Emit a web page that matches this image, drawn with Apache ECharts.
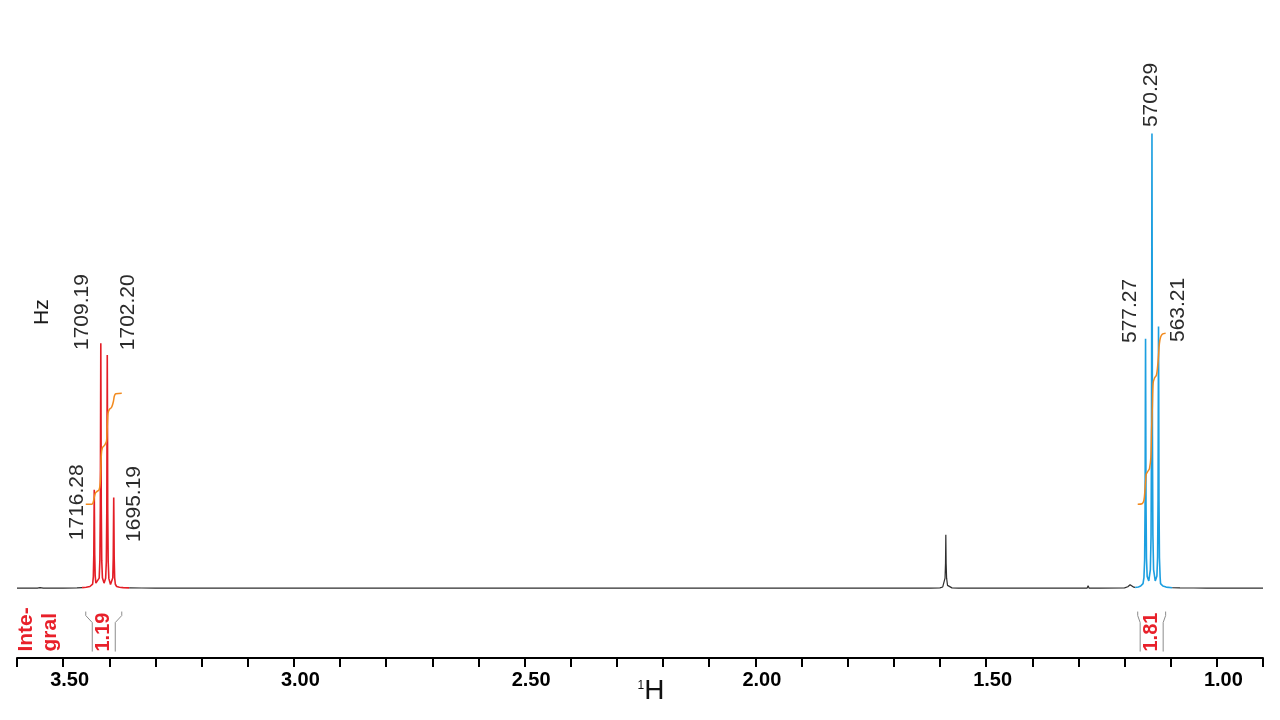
<!DOCTYPE html>
<html>
<head>
<meta charset="utf-8">
<script src="https://cdn.jsdelivr.net/npm/echarts@6/dist/echarts.min.js"></script>
<style>
html,body{margin:0;padding:0;background:#fff;}
#c{width:1280px;height:720px;}
</style>
</head>
<body>
<div id="c"></div>
<script>
// ---------- DATA ----------
const SF = 500; // spectrometer frequency, MHz (Hz -> ppm)
const tickLabels = ['3.50', '3.00', '2.50', '2.00', '1.50', '1.00'];

// spectrum trace [ppm, intensity]
const baselineLeft = [[3.600,0],[3.572,0],[3.568,0.25],[3.564,0],[3.556,0],[3.554,0.3],[3.550,0.1],[3.546,0.3],[3.543,0],[3.541,0],[3.539,0.2],[3.537,0],[3.500,0],[3.470,0.05],[3.459,0.1]];
const quartet = [[3.459,0.1],[3.450,0.18],[3.442,0.35],[3.4361,0.9],[3.4346,2.5],[3.4336,7.3],[3.4330,16.3],[3.4326,21.8],[3.4322,16.5],[3.4316,7.5],[3.4306,2.8],[3.4291,1.1],[3.4255,0.8],
  [3.4219,2.2],[3.4204,6.2],[3.4194,18.1],[3.4188,40.7],[3.4184,54.3],[3.4180,40.8],[3.4174,18.3],[3.4164,6.2],[3.4149,2.3],[3.4114,1.1],
  [3.4079,2.2],[3.4064,5.9],[3.4054,17.3],[3.4048,38.8],[3.4044,51.7],[3.4040,38.9],[3.4034,17.3],[3.4024,5.9],[3.4009,2.1],[3.3974,0.8],
  [3.3939,0.9],[3.3924,2.3],[3.3914,6.7],[3.3908,15.1],[3.3904,20.1],[3.3900,15.1],[3.3894,6.7],[3.3884,2.3],[3.3869,0.85],[3.384,0.35],[3.378,0.18],[3.370,0.1],[3.357,0.04]];
const baselineMid = [[3.357,0.04],[3.330,0.02],[3.300,0],[3.292,0],[3.290,0.25],[3.288,0],[3.281,0],[3.279,0.3],[3.277,0],[3.270,0],[3.268,0.25],[3.266,0],[3.264,0],[3.262,0.2],[3.260,0],[3.000,0],[2.500,0],[2.000,0],[1.620,0],
  [1.600,0.05],[1.594,0.25],[1.591,0.6],[1.589,2.2],[1.588,5.5],[1.5873,11.8],[1.5866,5.5],[1.5856,2.2],[1.5836,0.6],[1.580,0.25],[1.574,0.05],[1.560,0],
  [1.320,0],[1.314,0],[1.312,0.3],[1.310,0],[1.299,0],[1.297,0.35],[1.295,0],[1.281,0],[1.279,0.5],[1.277,0],[1.266,0],[1.264,0.3],[1.262,0],[1.253,0],[1.251,0.25],[1.249,0],
  [1.200,0.05],[1.193,0.3],[1.188,0.75],[1.184,0.4],[1.180,0.2],[1.177,0.15]];
const triplet = [[1.177,0.15],[1.170,0.25],[1.165,0.45],[1.160,1.0],
  [1.1580,2.3],[1.1565,6.2],[1.1555,18.4],[1.1549,41.5],[1.1545,55.3],[1.1541,41.5],[1.1535,18.6],[1.1525,6.6],[1.1510,2.6],[1.1475,1.6],
  [1.1441,4.1],[1.1426,11.4],[1.1416,33.6],[1.1410,75.6],[1.1406,100.8],[1.1402,75.8],[1.1396,33.9],[1.1386,11.8],[1.1371,4.1],[1.1335,1.6],
  [1.1299,2.7],[1.1284,6.9],[1.1274,19.6],[1.1268,43.7],[1.1264,58.0],[1.1260,43.8],[1.1254,19.4],[1.1244,6.7],[1.1229,2.4],
  [1.122,1.0],[1.117,0.45],[1.110,0.22],[1.097,0.08]];
const baselineRight = [[1.097,0.08],[1.080,0.04],[1.050,0.02],[1.022,0],[1.020,0.3],[1.018,0],[1.014,0],[1.012,0.25],[1.010,0],[0.980,0],[0.900,0]];

// integral curves
const integralLeft = [[3.451,18.6],[3.438,18.6],[3.435,19.0],[3.4326,20.1],[3.430,21.1],[3.427,21.4],[3.422,21.8],[3.4195,23.5],[3.4184,26.4],[3.4172,29.6],[3.415,31.1],[3.410,31.7],[3.406,32.6],[3.4044,35.8],[3.4028,38.8],[3.400,39.6],[3.395,40.1],[3.3915,41.2],[3.3904,41.8],[3.389,42.6],[3.386,43.1],[3.373,43.2]];
const integralRight = [[1.1715,18.6],[1.162,18.7],[1.158,19.5],[1.156,21.5],[1.1545,23.5],[1.153,25.2],[1.150,25.8],[1.146,26.5],[1.143,29.0],[1.1415,35.0],[1.1406,37.5],[1.1397,40.5],[1.138,45.5],[1.135,46.6],[1.131,47.2],[1.1285,49.0],[1.1264,51.5],[1.1245,54.2],[1.122,55.6],[1.118,56.3],[1.111,56.5]];
const integralRanges = [[3.451, 3.373], [1.1715, 1.111]];
const integralValues = ['1.19', '1.81'];

// peak picks (Hz) and peak heights
const peakHz = [1716.28, 1709.19, 1702.20, 1695.19, 577.27, 570.29, 563.21];
const peakHeights = [21.7, 53.9, 51.2, 20.0, 55.0, 100, 57.0];

// ---------- LAYOUT / STYLE ----------
const labelLayout = [[-17,50],[-19,5],[21,-7],[20,44],[-15.5,3],[-0.5,-10],[19.4,11]]; // px offsets of peak labels
const FONT = '"Liberation Sans", Arial, Helvetica, sans-serif';
const C = {black:'#2e2e2e', red:'#e41e26', blue:'#1c9fe0', orange:'#f28a1e', label:'#2b2b2b', intRed:'#e8202a', bracket:'#8c8c8c'};

function lineSeries(data, color, width) {
  return {type:'line', data:data, showSymbol:false, symbol:'none', silent:true, clip:false,
    lineStyle:{color:color, width:width}, z:2};
}

const chart = echarts.init(document.getElementById('c'), null, {renderer:'canvas'});
const option = {
  animation:false,
  backgroundColor:'#fff',
  grid:{left:17, right:17, top:0, bottom:62, containLabel:false, outerBoundsMode:'none'},
  xAxis:{
    type:'value', inverse:true, min:0.9, max:3.6, interval:0.1,
    axisLine:{show:true, onZero:false, lineStyle:{color:'#000', width:2}},
    axisTick:{show:true, inside:false, length:9, lineStyle:{color:'#000', width:2}},
    splitLine:{show:false},
    axisLabel:{
      margin:12, color:'#000', fontSize:20, fontWeight:'bold', fontFamily:FONT,
      padding:[0,0,0,13],
      formatter:function(v){ const s = v.toFixed(2); return tickLabels.indexOf(s) >= 0 ? s : ''; }
    },
    name:'{s|1}{h|H}', nameLocation:'middle', nameGap:19, nameMoveOverlap:false,
    nameTextStyle:{padding:[0,0,0,22], rich:{
      s:{fontSize:12, fontFamily:FONT, color:'#111', verticalAlign:'top', padding:[3,0,0,0]},
      h:{fontSize:28, fontFamily:FONT, color:'#111'}
    }}
  },
  yAxis:{type:'value', min:-15.5, max:130.4, show:false},
  series:[
    lineSeries(baselineLeft, C.black, 1.2),
    lineSeries(baselineMid, C.black, 1.2),
    lineSeries(baselineRight, C.black, 1.2),
    lineSeries(quartet, C.red, 1.6),
    lineSeries(triplet, C.blue, 1.6),
    Object.assign(lineSeries(integralLeft, C.orange, 1.5), {smooth:0.3, z:3}),
    Object.assign(lineSeries(integralRight, C.orange, 1.5), {smooth:0.3, z:3})
  ]
};
chart.setOption(option);

// annotations positioned through the axes
const toPx = (x, y) => chart.convertToPixel({gridIndex:0}, [x, y]);
const g = [];
peakHz.forEach(function(hz, i){
  const p = toPx(hz / SF, peakHeights[i]);
  g.push({type:'text', x:p[0] + labelLayout[i][0], y:p[1] + labelLayout[i][1], rotation:Math.PI/2, silent:true,
    style:{text:hz.toFixed(2), font:'21px ' + FONT, fill:C.label, align:'left', verticalAlign:'middle'}});
});
const yTop = toPx(1, -5.2)[1];
integralRanges.forEach(function(r, i){
  const xl = toPx(r[0], 0)[0], xr = toPx(r[1], 0)[0];
  const xc = (xl + xr) / 2;
  const il = xc - 11.5, ir = xc + 11.5;
  g.push({type:'polyline', silent:true, shape:{points:[[xl, yTop],[xl, yTop+4],[il, yTop+11],[il, yTop+40]]}, style:{stroke:C.bracket, lineWidth:1, fill:null}});
  g.push({type:'polyline', silent:true, shape:{points:[[xr, yTop],[xr, yTop+4],[ir, yTop+11],[ir, yTop+40]]}, style:{stroke:C.bracket, lineWidth:1, fill:null}});
  g.push({type:'text', x:xc, y:yTop + 20.5, rotation:Math.PI/2, silent:true,
    style:{text:integralValues[i], font:'bold 20px ' + FONT, fill:C.intRed, align:'center', verticalAlign:'middle'}});
});
g.push({type:'text', x:26, y:yTop + 40, rotation:Math.PI/2, silent:true,
  style:{text:'Inte-', font:'bold 21px ' + FONT, fill:C.intRed, align:'left', verticalAlign:'middle'}});
g.push({type:'text', x:50, y:yTop + 40, rotation:Math.PI/2, silent:true,
  style:{text:'gral', font:'bold 21px ' + FONT, fill:C.intRed, align:'left', verticalAlign:'middle'}});
g.push({type:'text', x:42, y:325, rotation:Math.PI/2, silent:true,
  style:{text:'Hz', font:'21px ' + FONT, fill:'#1a1a1a', align:'left', verticalAlign:'middle'}});
chart.setOption({graphic:g});
</script>
</body>
</html>
